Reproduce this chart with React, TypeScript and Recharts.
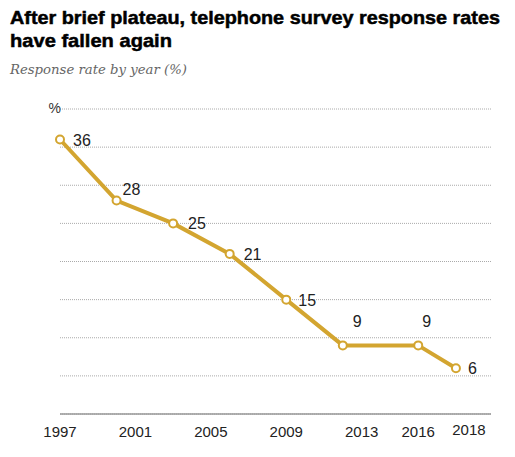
import { LineChart, Line, XAxis, YAxis, CartesianGrid, LabelList } from 'recharts';

const years = [1997, 2000, 2003, 2006, 2009, 2012, 2016, 2018];
const responseRates = [36, 28, 25, 21, 15, 9, 9, 6];
const xTicks = [1997, 2001, 2005, 2009, 2013, 2016, 2018];
const yTicks = [0, 5, 10, 15, 20, 25, 30, 35, 40];

const data = years.map((year, i) => ({ year, rate: responseRates[i] }));

// where each value label sits relative to its point
const labelOffsets = [
  [13, 6], [6, -6], [15, 6], [14, 6], [12, 6], [10, -18], [4, -18], [12, 6],
];

const GOLD = '#D3A530';
const FONT = '"Liberation Sans", Arial, sans-serif';

const XTick = (props: any) => {
  const { x, y, payload } = props;
  const shift = payload.value === 2018 ? 13 : 0;
  const lift = payload.value === 2018 ? -2 : 0;
  return (
    <text x={x + shift} y={y + 23 + lift} textAnchor="middle" fontSize={15} fontFamily={FONT} fill="#222">
      {payload.value}
    </text>
  );
};

// only the top tick carries a label: the unit sign
const YTick = (props: any) => {
  const { y, payload } = props;
  if (payload.value !== 40) return <g />;
  return (
    <text x={61} y={y + 4} textAnchor="end" fontSize={14} fontFamily={FONT} fill="#333">
      %
    </text>
  );
};

const ValueLabel = (props: any) => {
  const { x, y, value, index } = props;
  const [dx, dy] = labelOffsets[index];
  return (
    <text x={x + dx} y={y + dy} textAnchor="start" fontSize={16} fontFamily={FONT} fill="#222">
      {value}
    </text>
  );
};

export default function App() {
  return (
    <div style={{ position: 'absolute', left: 0, top: 0, width: 515, height: 457, background: '#fff' }}>
      <svg width={515} height={85} style={{ position: 'absolute', left: 0, top: 0 }}>
        <g fontSize={19} fontWeight="bold" fontFamily={FONT} fill="#000" stroke="#000" strokeWidth={0.5}>
          <text x={10} y={23.5} textLength={490} lengthAdjust="spacingAndGlyphs">
            After brief plateau, telephone survey response rates
          </text>
          <text x={10} y={47} textLength={162} lengthAdjust="spacingAndGlyphs">
            have fallen again
          </text>
        </g>
        <text x={10} y={73.5} fontSize={13} fontStyle="italic" fontFamily='"DejaVu Serif", Georgia, serif' fill="#666"
          textLength={177} lengthAdjust="spacingAndGlyphs">
          Response rate by year (%)
        </text>
      </svg>
      <div style={{ position: 'absolute', left: 0, top: 0 }}>
        <LineChart width={515} height={457} data={data} margin={{ top: 109, right: 24, bottom: 13, left: 59 }}>
          <CartesianGrid vertical={false} stroke="#aaa" strokeDasharray="1 1" />
          <XAxis
            dataKey="year"
            type="number"
            domain={[1997, 2019.86]}
            ticks={xTicks}
            height={30}
            tickSize={0}
            tickMargin={0}
            tickLine={false}
            axisLine={{ stroke: '#999', strokeWidth: 1.5 }}
            tick={<XTick />}
            interval={0}
          />
          <YAxis
            width={1}
            domain={[0, 40]}
            ticks={yTicks}
            tickSize={0}
            tickMargin={0}
            axisLine={false}
            tickLine={false}
            tick={<YTick />}
            interval={0}
          />
          <Line
            dataKey="rate"
            stroke={GOLD}
            strokeWidth={4}
            dot={{ r: 4, fill: '#fff', stroke: GOLD, strokeWidth: 2 }}
            isAnimationActive={false}
          >
            <LabelList dataKey="rate" content={<ValueLabel />} />
          </Line>
        </LineChart>
      </div>
    </div>
  );
}
